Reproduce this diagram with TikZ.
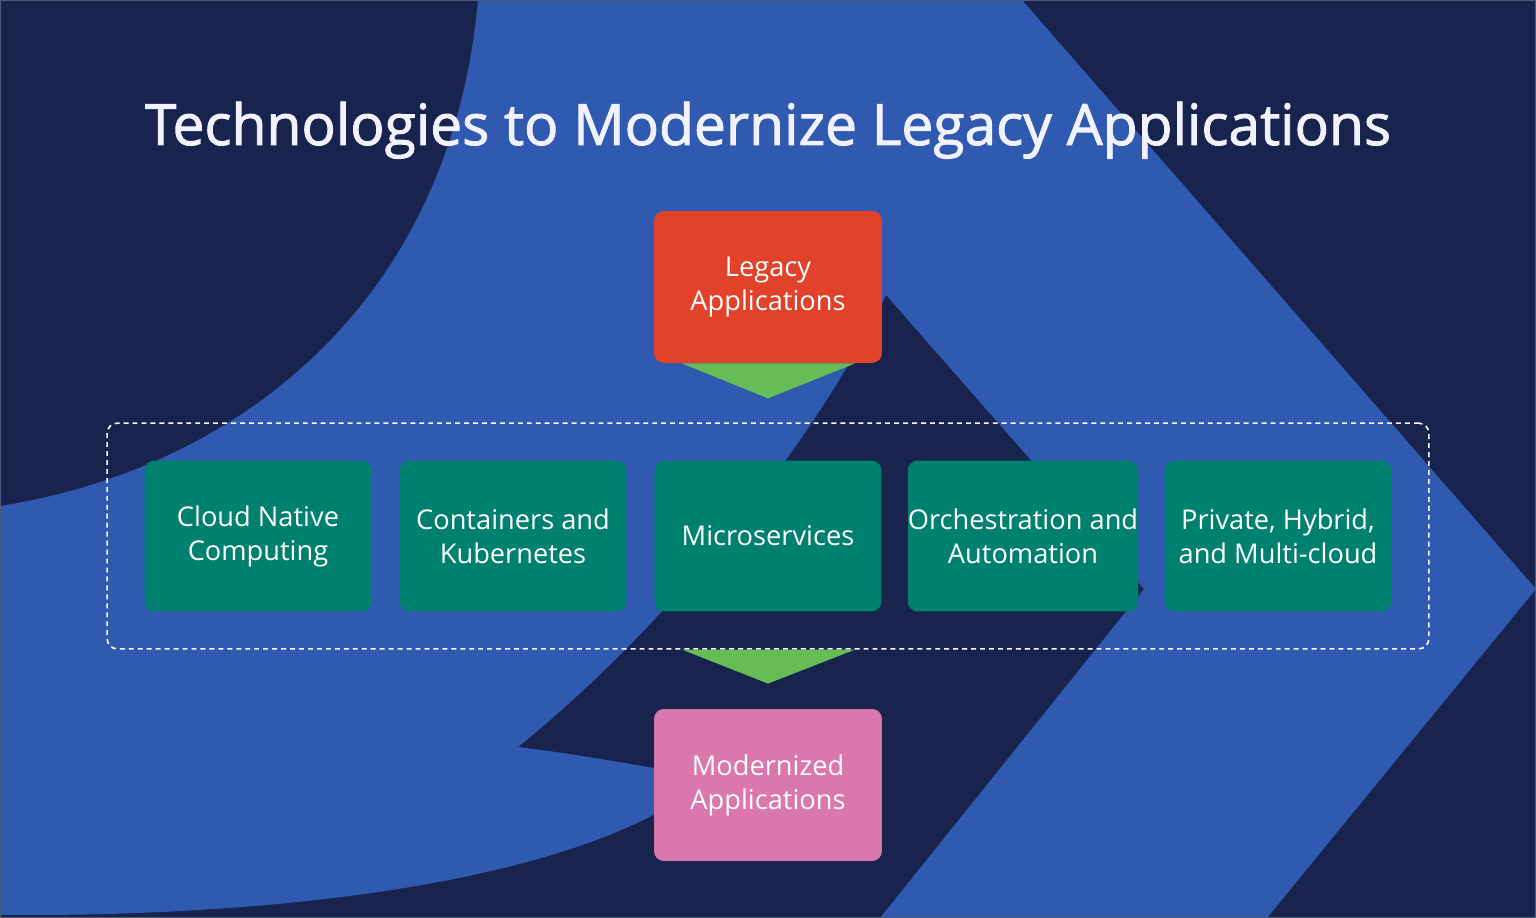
\documentclass[tikz,border=0pt]{standalone}
\usepackage{fontspec}
\setmainfont{Open Sans}
\newfontfamily\titlefont{Open Sans}[FakeBold=1.6]
\usetikzlibrary{fit}

\definecolor{navyBg}{HTML}{18234E}
\definecolor{bandBlue}{HTML}{2F5AAF}
\definecolor{legacyRed}{HTML}{E2412A}
\definecolor{arrowGreen}{HTML}{66BD56}
\definecolor{techTeal}{HTML}{00806F}
\definecolor{modernPink}{HTML}{DA77AD}

\begin{document}
\begin{tikzpicture}[
    x={(0.02cm, 0cm)},
    y={(0cm, -0.02cm)},
    app_box/.style={rectangle, rounded corners=0.2cm, minimum width=4.56cm, minimum height=3.04cm, inner sep=0pt, align=center, text=white, font=\fontsize{15.5}{19.4}\selectfont},
    tech_box/.style={app_box, fill=techTeal, minimum width=4.54cm, minimum height=3.02cm},
    group_box/.style={draw=white, line width=0.9pt, dash pattern=on 2.8pt off 2.3pt, rounded corners=0.2cm, inner sep=0.74cm},
    flow_arrow/.style={fill=arrowGreen},
    title_style/.style={text=white!95!blue, font=\titlefont\fontsize{32.4}{38}\selectfont},
    colorL/.style={fill=legacyRed},
    colorM/.style={fill=modernPink}
]
  \useasboundingbox (0,0) rectangle (1536,918);
  % Backdrop: dark field with the blue crescent and chevron
  \fill[navyBg] (0,0) rectangle (1536,918);
  \fill[bandBlue] (478,0) -- (1022,0) -- (1536,589) -- (1267,918) -- (880,918) -- (1144,589) -- (886,295)
    .. controls (807,457) and (658,634) .. (518,747)
    .. controls (600,757) and (670,772) .. (712,777)
    .. controls (585,883) and (280,917) .. (0,915)
    -- (0,506) .. controls (230,470) and (450,310) .. (478,0) -- cycle;
  \draw[white!25!navyBg, line width=0.5pt] (0.5,0.5) rectangle (1535.5,917.5);
  % Title
  \node[title_style, anchor=base] (title) at (768,145) {Technologies to Modernize Legacy Applications};
  % Start and end of the flow
  \node[app_box, colorL] (legacy) at (768,287) {Legacy\\Applications};
  \node[app_box, colorM] (modern) at (768,785) {Modernized\\Applications};
  % Technology row
  \foreach \techName [count=\i from 0] in {Cloud Native\\Computing, Containers and\\Kubernetes, Microservices, Orchestration and\\Automation, {Private, Hybrid,\\and Multi-cloud}} {
    \node[tech_box] (tech-\i) at (258+255*\i, 536) {\techName};
  }
  \node[group_box, fit=(tech-0) (tech-4)] (tech-group) {};
  % Green arrow heads between the stages
  \fill[flow_arrow] ([xshift=0.56cm]legacy.south west) -- ([xshift=-0.54cm]legacy.south east) -- ([yshift=-0.7cm]legacy.south) -- cycle;
  \fill[flow_arrow] ([xshift=-1.72cm]tech-group.south) -- ([xshift=1.74cm]tech-group.south) -- ([yshift=-0.68cm]tech-group.south) -- cycle;
\end{tikzpicture}
\end{document}
